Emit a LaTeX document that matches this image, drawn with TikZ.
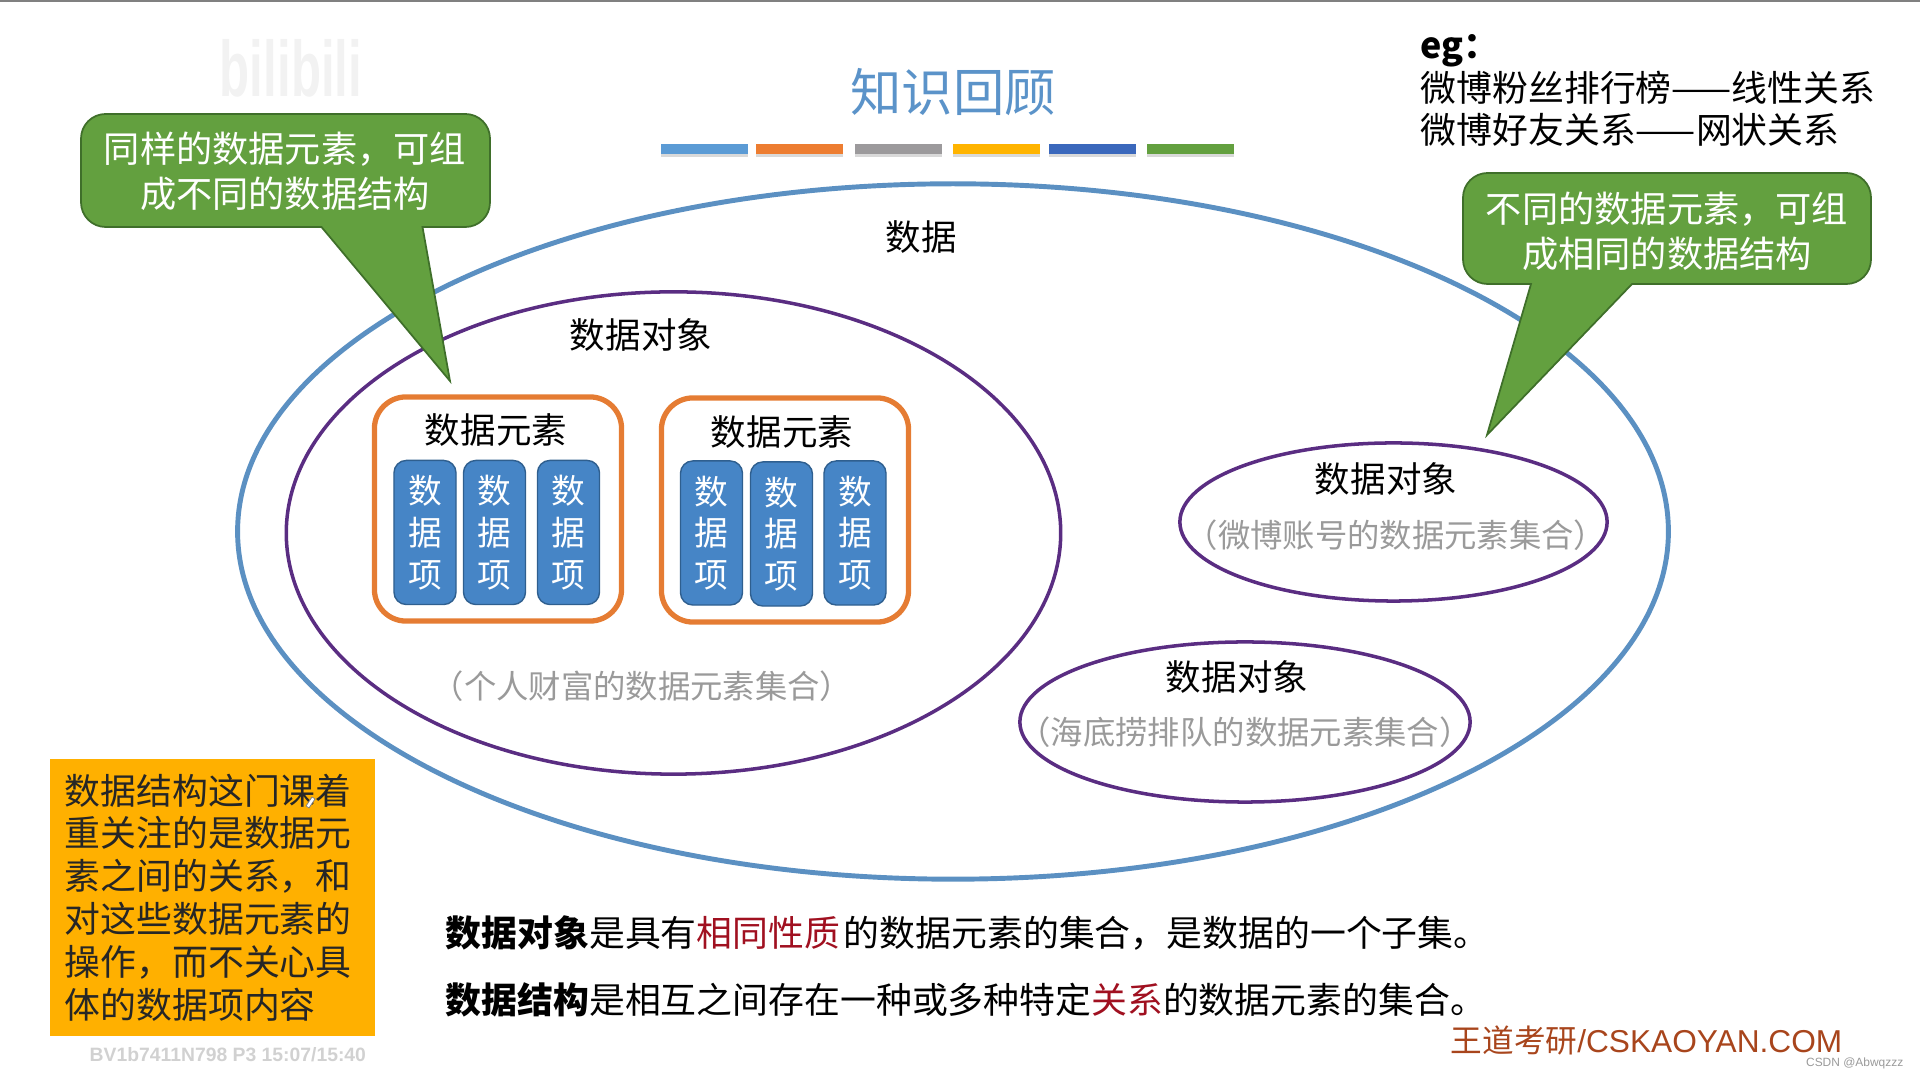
\documentclass[tikz,border=0pt]{standalone}
\usepackage{xcolor}
\usepackage{fontspec}
\setmainfont{Noto Sans CJK SC}
\newfontfamily\latinfont{Liberation Sans}
\usepackage{tikz}
\usetikzlibrary{shapes.geometric}
\definecolor{titleblue}{HTML}{5B93C9}
\definecolor{outerblue}{HTML}{5B90C2}
\definecolor{objpurple}{HTML}{5A2D82}
\definecolor{elemorange}{HTML}{E57C33}
\definecolor{itemblue}{HTML}{4685C6}
\definecolor{itemedge}{HTML}{2F5F8F}
\definecolor{notegreen}{HTML}{63A03F}
\definecolor{noteedge}{HTML}{3F6F2A}
\definecolor{noteamber}{HTML}{FFB000}
\definecolor{keyred}{HTML}{A01020}
\definecolor{brandred}{HTML}{A8451C}
\definecolor{captiongrey}{HTML}{9A9A9A}
\definecolor{barblue}{HTML}{5B9BD5}
\definecolor{barorange}{HTML}{ED7D31}
\definecolor{bargrey}{HTML}{9C9A9C}
\definecolor{baryellow}{HTML}{FFB400}
\definecolor{bardeep}{HTML}{3B68BC}
\definecolor{bargreen}{HTML}{63A03F}
\tikzset{
  setshape/.style={draw,ellipse,inner sep=0pt,outer sep=0pt},
  outerset/.style={setshape,draw=outerblue,line width=1.4pt},
  objset/.style={setshape,draw=objpurple,line width=1pt},
  elembox/.style={draw=elemorange,line width=1.5pt,rounded corners=9pt,minimum width=24.7mm,minimum height=22.4mm,inner sep=0pt},
  itembox/.style={draw=itemedge,fill=itemblue,line width=.4pt,rounded corners=3.5pt,minimum width=6.2mm,minimum height=14.4mm,inner sep=0pt,text=white,align=center,font=\fontsize{9.6}{11.9}\selectfont},
  greennote/.style={draw=noteedge,fill=notegreen,line width=.5pt},
  notetext/.style={text=white,align=center,inner sep=0pt,font=\fontsize{10.3}{12.7}\selectfont},
  heading/.style={inner sep=0pt,font=\fontsize{10.1}{12}\selectfont},
  caption/.style={inner sep=0pt,text=captiongrey,font=\fontsize{9.2}{11}\selectfont},
  bodyline/.style={anchor=west,inner sep=0pt,font=\fontsize{10.2}{12}\selectfont}
}

\begin{document}
\begin{tikzpicture}[x=.01cm,y=-.01cm]
  \useasboundingbox (0,0) rectangle (1920,1080);
  \fill[gray] (0,0) rectangle (1920,2);
  \node[yscale=1.6,inner sep=0pt,text=black!5,font=\fontsize{14}{16}\selectfont\latinfont\bfseries] (logo) at (291,68) {bilibili};

  \node[inner sep=0pt,text=titleblue,font=\fontsize{14.6}{16}\selectfont] (title) at (953,92) {知识回顾};
  \foreach \bx/\bc in {661/barblue,756/barorange,855/bargrey,953/baryellow,1049/bardeep,1147/bargreen} {
    \fill[black!15] (\bx,154) rectangle (\bx+87,157);
    \fill[\bc] (\bx,144) rectangle (\bx+87,154);
  }

  \node[outerset,minimum width=14.3cm,minimum height=6.95cm] (dataset) at (953,531.5) {};
  \node[objset,minimum width=7.74cm,minimum height=4.82cm] (objwealth) at (673.5,533) {};
  \node[objset,minimum width=4.27cm,minimum height=1.58cm] (objweibo) at (1393.5,522) {};
  \node[objset,minimum width=4.5cm,minimum height=1.6cm] (objqueue) at (1245,722) {};

  \node[heading] (datalabel) at (921,237) {数据};
  \node[heading] (objlabela) at (641,335) {数据对象};
  \node[heading] (objlabelb) at (1386,479) {数据对象};
  \node[heading] (objlabelc) at (1237,677) {数据对象};
  \node[caption] (capa) at (642,686) {（个人财富的数据元素集合）};
  \node[caption] (capb) at (1396,535) {（微博账号的数据元素集合）};
  \node[caption] (capc) at (1245,732) {（海底捞排队的数据元素集合）};

  \node[elembox] (elema) at (498,509) {};
  \node[elembox] (elemb) at (785,510) {};
  \node[heading] (elemlabela) at (496,430) {数据元素};
  \node[heading] (elemlabelb) at (782,432) {数据元素};
  \foreach \nm/\cx/\cy in {itema/425/532.5,itemb/494.5/532.5,itemc/568.5/532.5,itemd/711.5/533,iteme/781.5/534,itemf/855/533} {
    \node[itembox] (\nm) at (\cx,\cy) {数\\据\\项};
  }

  \draw[greennote] (285,114) [rounded corners=7pt] -- (490,114) -- (490,227) [sharp corners] -- (422.5,227) -- (450,381) -- (321.5,227) [rounded corners=7pt] -- (81,227) -- (81,114) -- cycle;
  \node[notetext] (notea) at (285,171) {同样的数据元素，可组\\成不同的数据结构};
  \draw[greennote] (1667,173) [rounded corners=7pt] -- (1871,173) -- (1871,284) [sharp corners] -- (1632,284) -- (1487,435) -- (1531,284) [rounded corners=7pt] -- (1463,284) -- (1463,173) -- cycle;
  \node[notetext] (noteb) at (1667,231) {不同的数据元素，可组\\成相同的数据结构};

  \node[anchor=north west,inner sep=0pt,align=left,font=\fontsize{10.2}{12.1}\selectfont] (example) at (1420,34) {\textbf{eg：}\\微博粉丝排行榜——线性关系\\微博好友关系——网状关系};

  \node[anchor=north west,fill=noteamber,minimum width=3.25cm,minimum height=2.77cm,inner sep=0pt] (ambernote) at (49,758) {};
  \node[anchor=north west,inner sep=0pt,align=left,text=black!85,font=\fontsize{10.2}{12.2}\selectfont] (ambertext) at (64,773) {数据结构这门课着\\重关注的是数据元\\素之间的关系，和\\对这些数据元素的\\操作，而不关心具\\体的数据项内容};
  \fill[white,draw=gray,line width=.2pt] (306,806) -- (312,797) -- (315,799) -- (309,808) -- cycle;

  \node[bodyline] (defobject) at (445,933) {\textbf{数据对象}是具有\textcolor{keyred}{相同性质}\kern.1em 的数据元素的集合，是数据的一个子集。};
  \node[bodyline] (defstruct) at (445,1000) {\textbf{数据结构}是相互之间存在一种或多种特定\textcolor{keyred}{关系}的数据元素的集合。};

  \node[anchor=west,inner sep=0pt,text=brandred,font=\fontsize{9}{11}\selectfont] (brand) at (1450,1040) {王道考研{\latinfont/CSKAOYAN.COM}};
  \node[anchor=east,inner sep=0pt,text=captiongrey,font=\fontsize{3.4}{4}\selectfont\latinfont] (csdn) at (1904,1063) {CSDN @Abwqzzz};
  \node[anchor=west,inner sep=0pt,text=black!18,font=\fontsize{5.5}{6}\selectfont\latinfont\bfseries] (videotag) at (89,1055) {BV1b7411N798 P3 15:07/15:40};
\end{tikzpicture}
\end{document}
